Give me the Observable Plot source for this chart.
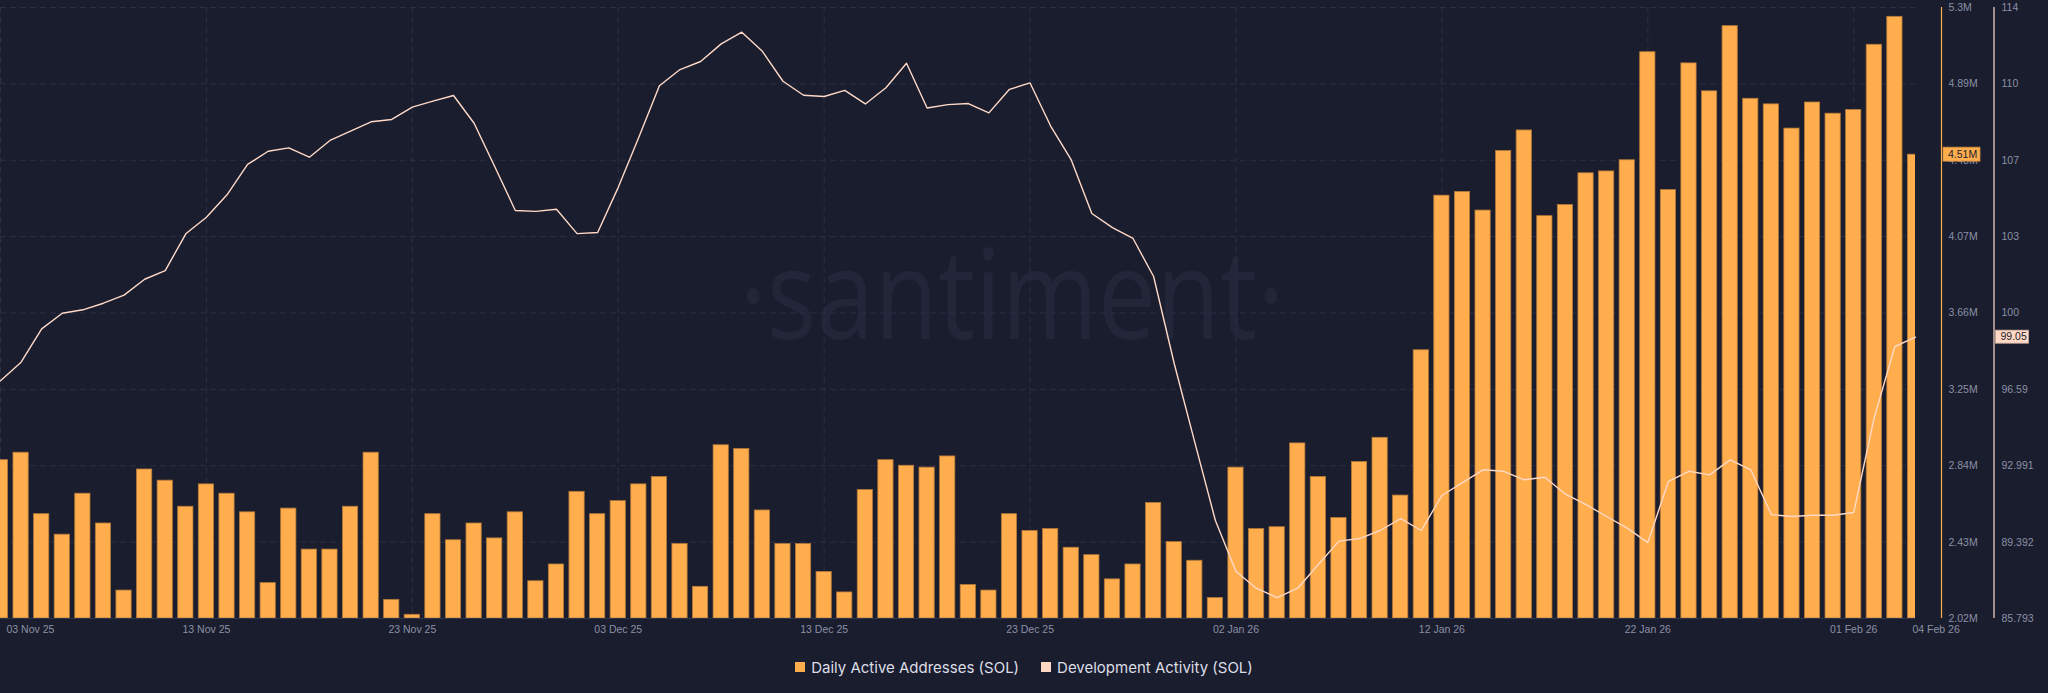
<!DOCTYPE html>
<html>
<head>
<meta charset="utf-8">
<script src="https://cdn.jsdelivr.net/npm/d3@7"></script>
<script src="https://cdn.jsdelivr.net/npm/@observablehq/plot@0.6"></script>
<style>
  html, body { margin: 0; padding: 0; background: #1a1d2e; }
  #wrap { position: relative; width: 2048px; height: 645px; background: #1a1d2e; }
  #wrap svg { position: absolute; left: 0; top: 0; }
  #legend { width: 2048px; height: 44px; display: flex; align-items: center; justify-content: center;
            font-family: Inter, "Noto Sans", sans-serif; font-size: 15px; color: #dcdde6; }
  .item { display: flex; align-items: center; margin: 0 11px; }
  .sw { width: 10px; height: 10px; margin-right: 6px; }
</style>
</head>
<body>
<div id="wrap"></div>
<div id="legend"></div>
<script>
// ---------- data ----------
const startDay = "2025-11-03";
const endDay = "2026-02-04";

// Daily Active Addresses (SOL), millions, one per day
const daaValues = [
  2.87, 2.91, 2.58, 2.47, 2.69, 2.53, 2.17, 2.82, 2.76, 2.62,
  2.74, 2.69, 2.59, 2.21, 2.61, 2.39, 2.39, 2.62, 2.91, 2.12,
  2.04, 2.58, 2.44, 2.53, 2.45, 2.59, 2.22, 2.31, 2.70, 2.58,
  2.65, 2.74, 2.78, 2.42, 2.19, 2.95, 2.93, 2.60, 2.42, 2.42,
  2.27, 2.16, 2.71, 2.87, 2.84, 2.83, 2.89, 2.20, 2.17, 2.58,
  2.49, 2.50, 2.40, 2.36, 2.23, 2.31, 2.64, 2.43, 2.33, 2.13,
  2.83, 2.50, 2.51, 2.96, 2.78, 2.56, 2.86, 2.99, 2.68, 3.46,
  4.29, 4.31, 4.21, 4.53, 4.64, 4.18, 4.24, 4.41, 4.42, 4.48,
  5.06, 4.32, 5.00, 4.85, 5.20, 4.81, 4.78, 4.65, 4.79, 4.73,
  4.75, 5.10, 5.25, 4.51
];

// Development Activity (SOL), one per day
const devValues = [
  97.00, 97.87, 99.44, 100.18, 100.34, 100.65, 101.03, 101.78, 102.19, 103.92,
  104.70, 105.76, 107.19, 107.81, 107.97, 107.53, 108.32, 108.76, 109.20, 109.31,
  109.89, 110.17, 110.44, 109.13, 107.09, 105.02, 104.98, 105.08, 103.93, 103.98,
  106.11, 108.47, 110.90, 111.66, 112.04, 112.87, 113.42, 112.52, 111.11, 110.45,
  110.39, 110.68, 110.04, 110.80, 111.96, 109.85, 110.01, 110.06, 109.62, 110.73,
  111.03, 109.00, 107.40, 104.88, 104.21, 103.70, 101.91, 97.81, 94.09, 90.41,
  88.01, 87.21, 86.78, 87.22, 88.34, 89.44, 89.56, 89.94, 90.50, 89.94,
  91.59, 92.20, 92.80, 92.73, 92.33, 92.45, 91.65, 91.16, 90.60, 90.05,
  89.37, 92.25, 92.73, 92.56, 93.27, 92.80, 90.69, 90.60, 90.66, 90.66,
  90.79, 95.28, 98.61, 99.05
];

const xTickDays = ["2025-11-03", "2025-11-13", "2025-11-23", "2025-12-03", "2025-12-13",
                   "2025-12-23", "2026-01-02", "2026-01-12", "2026-01-22", "2026-02-01"];
const xEndTickDay = "2026-02-04";

const daaTicks = [2.02, 2.43, 2.84, 3.25, 3.66, 4.07, 4.48, 4.89, 5.3];
const daaTickLabels = ["2.02M", "2.43M", "2.84M", "3.25M", "3.66M", "4.07M", "4.48M", "4.89M", "5.3M"];
const devTicks = [85.793, 89.392, 92.991, 96.59, 100.189, 103.788, 107.387, 110.986, 114.585];
const devTickLabels = ["85.793", "89.392", "92.991", "96.59", "100", "103", "107", "110", "114"];

const seriesNames = ["Daily Active Addresses (SOL)", "Development Activity (SOL)"];
const seriesColors = ["#ffad4d", "#ffd9c6"];
const watermark = "·santiment·";

// ---------- build ----------
const parse = d3.utcParse("%Y-%m-%d");
const fmt = d3.utcFormat("%d %b %y");
const days = d3.utcDay.range(parse(startDay), d3.utcDay.offset(parse(endDay), 1));
const daa = days.map((date, i) => ({date, value: daaValues[i]}));
const dev = days.map((date, i) => ({date, value: devValues[i]}));
const xTicks = xTickDays.map(parse);
const xEnd = parse(xEndTickDay);

const W = 2048, H = 645;
const M = {top: 7, right: 133, bottom: 27, left: 0};
const xRight = W - M.right;
const half = 0.37 * 864e5;
const axisColor = "#8b90a5";
const grid = {stroke: "#2b2f44", strokeOpacity: 1, strokeDasharray: "6,4", strokeWidth: 1};
const baseStyle = {background: "transparent", fontFamily: "'Liberation Sans', Arial, sans-serif",
                   fontSize: "10.5px", color: axisColor, overflow: "visible"};
const xScale = {type: "utc", domain: [days[0], days[days.length - 1]], axis: null};

const plotA = Plot.plot({
  width: W, height: H,
  marginTop: M.top, marginRight: M.right, marginBottom: M.bottom, marginLeft: M.left,
  style: baseStyle,
  x: xScale,
  y: {domain: [daaTicks[0], daaTicks[daaTicks.length - 1]], axis: null},
  marks: [
    Plot.text([watermark], {text: d => d, frameAnchor: "middle", dx: 54, dy: -14.5,
      fontSize: 125, fontFamily: "'Open Sans', sans-serif", fill: "#222638"}),
    Plot.gridX({ticks: xTicks, ...grid}),
    Plot.gridY({ticks: daaTicks, ...grid}),
    Plot.ruleY([daaTicks[0]], {stroke: "#30344a"}),
    Plot.rectY(daa, {
      x1: d => new Date(+d.date - half), x2: d => new Date(+d.date + half),
      y1: daaTicks[0], y2: "value",
      fill: seriesColors[0], stroke: "#b27838", strokeWidth: 0.8, clip: true
    }),
    Plot.text([xTicks[0]], {x: d => d, text: fmt, frameAnchor: "bottom", textAnchor: "start",
      lineAnchor: "middle", dx: 6, dy: 11, fill: axisColor}),
    Plot.text(xTicks.slice(1), {x: d => d, text: fmt, frameAnchor: "bottom", textAnchor: "middle",
      lineAnchor: "middle", dy: 11, fill: axisColor}),
    Plot.text([xEnd], {x: d => d, text: fmt, frameAnchor: "bottom", textAnchor: "start",
      lineAnchor: "middle", dx: -3, dy: 11, fill: axisColor}),
    Plot.axisY({ticks: daaTicks, anchor: "right", tickSize: 0, tickPadding: 33, label: null,
      tickFormat: d => daaTickLabels[daaTicks.indexOf(d)], fill: axisColor})
  ]
});

const plotB = Plot.plot({
  width: W, height: H,
  marginTop: M.top, marginRight: M.right, marginBottom: M.bottom, marginLeft: M.left,
  style: baseStyle,
  x: xScale,
  y: {domain: [devTicks[0], devTicks[devTicks.length - 1]], axis: null},
  marks: [
    Plot.line(dev, {x: "date", y: "value", stroke: seriesColors[1], strokeWidth: 1.4}),
    Plot.axisY({ticks: devTicks, anchor: "right", tickSize: 0, tickPadding: 86, label: null,
      tickFormat: d => devTickLabels[devTicks.indexOf(d)], fill: axisColor})
  ]
});

// watermark: narrow letterforms
d3.select(plotA).selectAll("text").filter(function() { return this.textContent === watermark; })
  .attr("textLength", 545).attr("lengthAdjust", "spacingAndGlyphs");

// axis lines and last-value badges
function decorate(plot, axisX, color, lastValue, label, badgeW, badgeH) {
  const svg = d3.select(plot);
  const y = plot.scale("y");
  svg.append("line")
    .attr("x1", axisX).attr("x2", axisX)
    .attr("y1", M.top).attr("y2", H - M.bottom)
    .attr("stroke", color).attr("stroke-width", 1.2);
  const yb = y.apply(lastValue);
  svg.append("rect")
    .attr("x", axisX + 1.5).attr("y", yb - badgeH / 2)
    .attr("width", badgeW).attr("height", badgeH)
    .attr("fill", color).attr("stroke", d3.color(color).darker(0.6)).attr("stroke-width", 0.8);
  svg.append("text")
    .attr("x", axisX + 6.5).attr("y", yb).attr("dy", "0.35em")
    .attr("text-anchor", "start")
    .attr("fill", "#1a1d2e").attr("font-size", "10.5px")
    .attr("font-family", "'Liberation Sans', Arial, sans-serif")
    .text(label);
}
decorate(plotA, xRight + 26.5, seriesColors[0], daaValues[daaValues.length - 1],
  daaValues[daaValues.length - 1].toFixed(2) + "M", 37, 14);
decorate(plotB, xRight + 79, seriesColors[1], devValues[devValues.length - 1],
  devValues[devValues.length - 1].toFixed(2), 33, 13);

document.getElementById("wrap").append(plotA, plotB);

// legend
const legend = d3.select("#legend");
seriesNames.forEach((name, i) => {
  const it = legend.append("div").attr("class", "item");
  it.append("div").attr("class", "sw").style("background", seriesColors[i]);
  it.append("span").text(name);
});
</script>
</body>
</html>
